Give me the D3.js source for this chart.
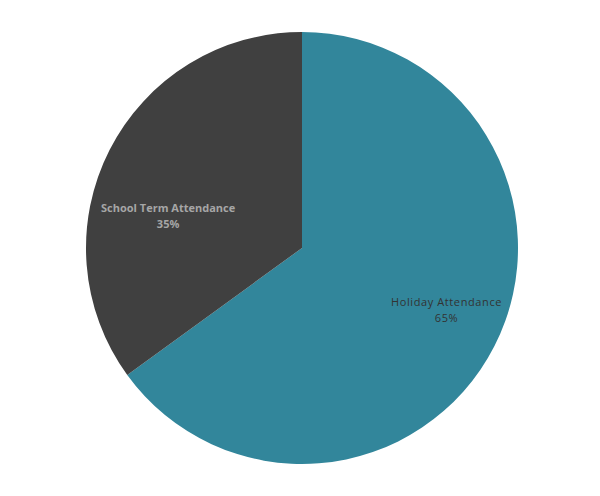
<!DOCTYPE html>
<html><head><meta charset="utf-8">
<script src="https://cdn.jsdelivr.net/npm/d3@7/dist/d3.min.js"></script>
<style>body{margin:0;background:#fff}svg{display:block}</style>
</head><body><svg id="c" width="600" height="496"></svg>
<script>
const categories = ["Holiday Attendance", "School Term Attendance"];
const values = [65, 35];
const colors = ["#32869B", "#404040"];

const svg = d3.select("#c");
const cx = 302, cy = 248, R = 216;
const g = svg.append("g").attr("transform", `translate(${cx},${cy})`);
const pie = d3.pie().sort(null).value(d => d)(values);
const arc = d3.arc().innerRadius(0).outerRadius(R);
g.selectAll("path").data(pie).enter().append("path")
  .attr("d", arc).attr("fill", (d, i) => colors[i]);

const total = d3.sum(values);
const labelStyle = [
  {r: 157, da: -4 * Math.PI / 180, fill: "#333333", weight: "normal", ls: 0.6},
  {r: 138, da: -13 * Math.PI / 180, fill: "#A6A6A6", weight: "bold", ls: 0}
];
pie.forEach((d, i) => {
  const s = labelStyle[i];
  const a = (d.startAngle + d.endAngle) / 2 + s.da;
  const x = s.r * Math.sin(a), y = -s.r * Math.cos(a);
  const t = g.append("text").attr("text-anchor", "middle")
    .attr("font-family", "Open Sans, DejaVu Sans, sans-serif")
    .attr("letter-spacing", s.ls)
    .attr("font-size", 11).attr("font-weight", s.weight).attr("fill", s.fill);
  t.append("tspan").attr("x", x).attr("y", y - 3).text(categories[i]);
  t.append("tspan").attr("x", x).attr("y", y + 13).text(Math.round(values[i] / total * 100) + "%");
});
</script></body></html>
